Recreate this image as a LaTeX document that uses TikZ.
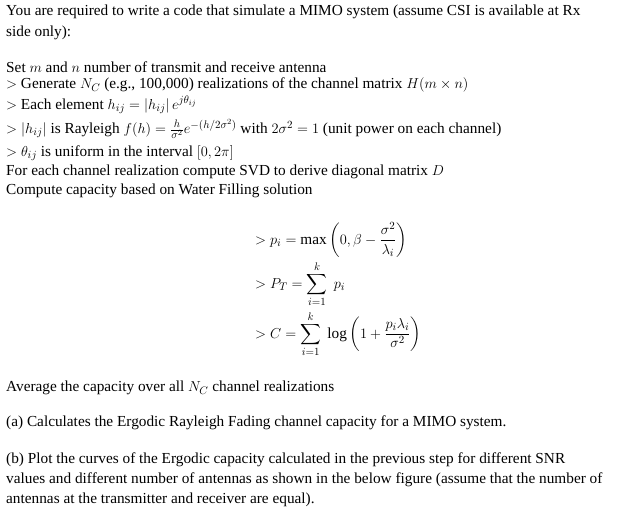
\documentclass[tikz,border=0pt]{standalone}
\usepackage{amsmath}
\usepackage{fontspec}
\setmainfont{Liberation Serif}
\begin{document}
\begin{tikzpicture}[x=1pt,y=-1pt,
  txt/.style={anchor=west,inner sep=0pt,font=\fontsize{15.3}{18}\selectfont}]
\useasboundingbox[fill=white] (0,0) rectangle (643,507);
\node[txt] (l1) at (6,12) {You are required to write a code that simulate a MIMO system (assume CSI is available at Rx};
\node[txt] (l2) at (6,33) {side only):};
\node[txt] (l3) at (6,67) {Set $m$ and $n$ number of transmit and receive antenna};
\node[txt] (l4) at (6,85) {$>$ Generate $N_C$ (e.g., 100,000) realizations of the channel matrix $H(m\times n)$};
\node[txt] (l5) at (6,105) {$>$ Each element $h_{ij}=\left|h_{ij}\right|e^{j\theta_{ij}}$};
\node[txt] (l6) at (6,129) {$>\left|h_{ij}\right|$ is Rayleigh $f(h)=\frac{h}{\sigma^2}e^{-(h/2\sigma^2)}$ with $2\sigma^2=1$ (unit power on each channel)};
\node[txt] (l7) at (6,153) {$>\theta_{ij}$ is uniform in the interval $[0,2\pi]$};
\node[txt] (l8) at (6,172) {For each channel realization compute SVD to derive diagonal matrix $D$};
\node[txt] (l9) at (6,191) {Compute capacity based on Water Filling solution};
\node[txt] (e1) at (255,240) {$>p_i=\max\left(0,\beta-\dfrac{\sigma^2}{\lambda_i}\right)$};
\node[txt] (e2) at (255,284) {$>P_T=\displaystyle\sum_{i=1}^{k}\;p_i$};
\node[txt] (e3) at (255,334) {$>C=\displaystyle\sum_{i=1}^{k}\;\log\left(1+\frac{p_i\lambda_i}{\sigma^2}\right)$};
\node[txt] (l10) at (6,388) {Average the capacity over all $N_C$ channel realizations};
\node[txt] (l11) at (6,423) {(a) Calculates the Ergodic Rayleigh Fading channel capacity for a MIMO system.};
\node[txt] (l12) at (6,460) {(b) Plot the curves of the Ergodic capacity calculated in the previous step for different SNR};
\node[txt] (l13) at (6,480) {values and different number of antennas as shown in the below figure (assume that the number of};
\node[txt] (l14) at (6,500) {antennas at the transmitter and receiver are equal).};
\end{tikzpicture}
\end{document}
